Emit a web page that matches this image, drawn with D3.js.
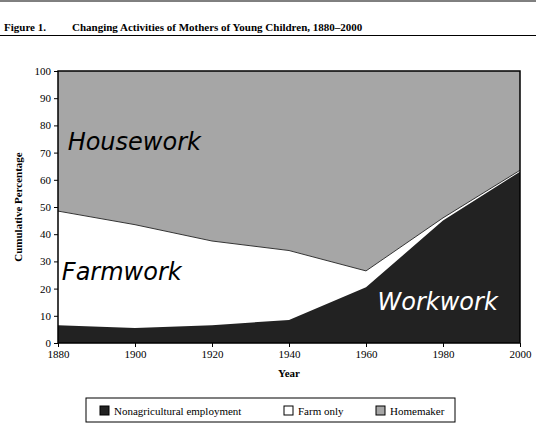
<!DOCTYPE html>
<html><head><meta charset="utf-8">
<script src="https://cdn.jsdelivr.net/npm/d3@7"></script>
<style>body{margin:0;background:#fff}text{font-family:"Liberation Serif",serif}</style>
</head><body><svg id="chart" width="536" height="428"></svg>
<script>
const years = [1880, 1900, 1920, 1940, 1960, 1980, 2000];
const nonag = [6.5, 5.5, 6.5, 8.5, 20.5, 45, 63];
const farmTop = [48.5, 43.5, 37.5, 34, 26.5, 46, 63.5];
const homeTop = [100, 100, 100, 100, 100, 100, 100];
const yTicks = [0, 10, 20, 30, 40, 50, 60, 70, 80, 90, 100];
const legendItems = [["Nonagricultural employment", "#222"], ["Farm only", "#fff"], ["Homemaker", "#a6a6a6"]];

const svg = d3.select("#chart");
const margin = {top: 71, left: 58, right: 16, bottom: 85};
const width = 536 - margin.left - margin.right, height = 428 - margin.top - margin.bottom;

svg.append("line").attr("x1", 0).attr("x2", 536).attr("y1", 1).attr("y2", 1).attr("stroke", "#000");
svg.append("line").attr("x1", 0).attr("x2", 536).attr("y1", 35.5).attr("y2", 35.5).attr("stroke", "#000");
svg.append("text").attr("x", 4).attr("y", 31).style("font-size", "11px").style("font-weight", "bold").text("Figure 1.");
svg.append("text").attr("x", 72).attr("y", 31).style("font-size", "11px").style("font-weight", "bold")
  .text("Changing Activities of Mothers of Young Children, 1880–2000");

const g = svg.append("g").attr("transform", `translate(${margin.left},${margin.top})`);
const x = d3.scaleLinear().domain([1880, 2000]).range([0, width]);
const y = d3.scaleLinear().domain([0, 100]).range([height, 0]);

const area = (lo, hi) => d3.area().x((d, i) => x(years[i])).y0((d, i) => y(lo[i])).y1((d, i) => y(hi[i]))(years);
const zeros = years.map(() => 0);
g.append("path").attr("d", area(farmTop, homeTop)).attr("fill", "#a6a6a6");
g.append("path").attr("d", area(nonag, farmTop)).attr("fill", "#fff");
g.append("path").attr("d", area(zeros, nonag)).attr("fill", "#222");
g.append("path").attr("d", d3.line().x((d, i) => x(years[i])).y((d, i) => y(farmTop[i]))(years))
  .attr("fill", "none").attr("stroke", "#333").attr("stroke-width", 1);
g.append("rect").attr("width", width).attr("height", height).attr("fill", "none").attr("stroke", "#000").attr("stroke-width", 1.5);

const xAxis = g.append("g").attr("transform", `translate(0,${height})`)
  .call(d3.axisBottom(x).tickValues(years).tickFormat(d3.format("d")).tickSize(4));
const yAxis = g.append("g").call(d3.axisLeft(y).tickValues(yTicks).tickSize(4));
[xAxis, yAxis].forEach(a => { a.select(".domain").remove(); a.selectAll("text").style("font-size", "11px").style("font-family", "Liberation Serif"); });

g.append("text").attr("x", width / 2).attr("y", height + 34).attr("text-anchor", "middle")
  .style("font-size", "11px").style("font-weight", "bold").text("Year");
g.append("text").attr("transform", "rotate(-90)").attr("x", -height / 2).attr("y", -36).attr("text-anchor", "middle")
  .style("font-size", "11px").style("font-weight", "bold").text("Cumulative Percentage");

const labels = [["Housework", 1882.5, 71, "#000"], ["Farmwork", 1881, 23, "#000"], ["Workwork", 1963, 12, "#fff"]];
labels.forEach(([t, yr, v, c]) => g.append("text").attr("x", x(yr)).attr("y", y(v)).attr("fill", c)
  .style("font-family", "DejaVu Sans").style("font-style", "italic").style("font-size", "24px").text(t));

const lg = svg.append("g").attr("transform", "translate(86,398)");
lg.append("rect").attr("width", 369).attr("height", 24).attr("fill", "none").attr("stroke", "#000");
const lx = [14, 198, 290];
legendItems.forEach(([t, c], i) => {
  lg.append("rect").attr("x", lx[i]).attr("y", 8).attr("width", 9).attr("height", 9).attr("fill", c).attr("stroke", "#000");
  lg.append("text").attr("x", lx[i] + 14).attr("y", 16.5).style("font-size", "11px").text(t);
});
</script></body></html>
